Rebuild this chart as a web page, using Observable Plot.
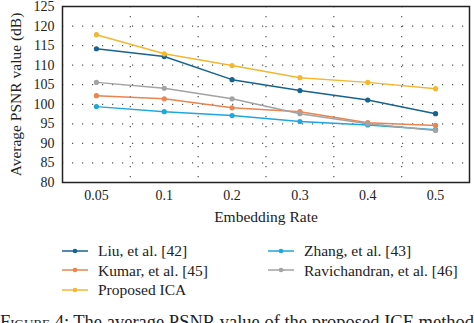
<!DOCTYPE html>
<html>
<head>
<meta charset="utf-8">
<script src="https://cdn.jsdelivr.net/npm/d3@7"></script>
<script src="https://cdn.jsdelivr.net/npm/@observablehq/plot@0.6"></script>
<style>
  html, body { margin: 0; padding: 0; background: #fff; width: 474px; height: 323px; overflow: hidden; }
  body, div, span { font-family: "Liberation Serif", "Times New Roman", serif; color: #222; }
  #legend { display: grid; grid-template-columns: 206px 206px; padding-left: 62px; padding-top: 11px; }
  .item { display: flex; align-items: center; height: 19.5px; font-size: 15.5px; line-height: 19.5px; }
  .sw { width: 36px; height: 12px; flex: none; }
  #caption { font-size: 18.5px; line-height: 21px; white-space: nowrap; overflow: hidden; margin-top: 12px; }
  .sc { font-variant: small-caps; }
</style>
</head>
<body>
<div id="chart"></div>
<div id="legend"></div>
<div id="caption"><span class="sc">Figure</span> 4: The average PSNR value of the proposed ICE method</div>
<script>
const rates = ["0.05", "0.1", "0.2", "0.3", "0.4", "0.5"];
const seriesNames = ["Liu, et al. [42]", "Zhang, et al. [43]", "Kumar, et al. [45]", "Ravichandran, et al. [46]", "Proposed ICA"];
const colors = ["#17628f", "#1fa6dc", "#ea8450", "#a3a3a3", "#f3b731"];
const liu = [114.2, 112.2, 106.3, 103.5, 101.1, 97.6];
const zhang = [99.4, 98.1, 97.1, 95.6, 94.7, 93.5];
const kumar = [102.2, 101.4, 99.1, 98.1, 95.3, 94.6];
const ravichandran = [105.6, 104.1, 101.4, 97.6, 95.0, 93.3];
const proposed = [117.8, 112.9, 109.9, 106.8, 105.6, 104.0];
const yTicks = [80, 85, 90, 95, 100, 105, 110, 115, 120, 125];

const allSeries = [liu, zhang, kumar, ravichandran, proposed];
const drawOrder = [1, 2, 3, 0, 4];
const data = [];
drawOrder.forEach(si => {
  allSeries[si].forEach((v, i) => data.push({series: seriesNames[si], idx: i, value: v}));
});
const idxs = rates.map((_, i) => i);
const bounds = idxs.slice(1).map(i => i - 0.5);
const gridY = yTicks.slice(1, -1);
const FONT = "'Liberation Serif', 'Times New Roman', serif";

const plot = Plot.plot({
  width: 474,
  height: 230,
  marginLeft: 62,
  marginRight: 5,
  marginTop: 6,
  marginBottom: 48,
  style: {fontFamily: FONT, fontSize: "14px", color: "#222", background: "#fff"},
  x: {domain: [-0.5, rates.length - 0.5], label: null},
  y: {domain: [80, 125], label: null},
  color: {domain: seriesNames, range: colors},
  marks: [
    Plot.ruleY(gridY, {stroke: "#555", strokeWidth: 1.2, strokeDasharray: "1.2,8.8"}),
    Plot.ruleX(bounds, {stroke: "#555", strokeWidth: 1.2, strokeDasharray: "1.2,8.8"}),
    Plot.line(data, {x: "idx", y: "value", z: "series", stroke: "series", strokeWidth: 1.5}),
    Plot.dot(data, {x: "idx", y: "value", fill: "series", r: 2.6}),
    Plot.frame({stroke: "#222", strokeWidth: 1.5}),
    Plot.axisX({ticks: idxs, tickFormat: i => rates[i], tickSize: 0, tickPadding: 8, fontSize: 14, fontFamily: FONT, label: null}),
    Plot.text(["Embedding Rate"], {frameAnchor: "bottom", dy: 39, fontSize: 15.5, fontFamily: FONT, fill: "#222"}),
    Plot.axisY({ticks: yTicks, tickSize: 0, tickPadding: 8, fontSize: 14, fontFamily: FONT, label: null}),
    Plot.text(["Average PSNR value (dB)"], {frameAnchor: "left", textAnchor: "middle", dx: -46, rotate: -90, fontSize: 15.5, fontFamily: FONT, fill: "#222"})
  ]
});
document.getElementById("chart").appendChild(plot);

const legend = document.getElementById("legend");
[0, 1, 2, 3, 4].forEach(si => {
  const item = document.createElement("div");
  item.className = "item";
  const c = colors[si];
  item.innerHTML = `<svg class="sw" viewBox="0 0 36 12"><line x1="0" x2="26" y1="6" y2="6" stroke="${c}" stroke-width="1.5"/><circle cx="13" cy="6" r="2.3" fill="${c}"/></svg><span>${seriesNames[si]}</span>`;
  legend.appendChild(item);
});
</script>
</body>
</html>
